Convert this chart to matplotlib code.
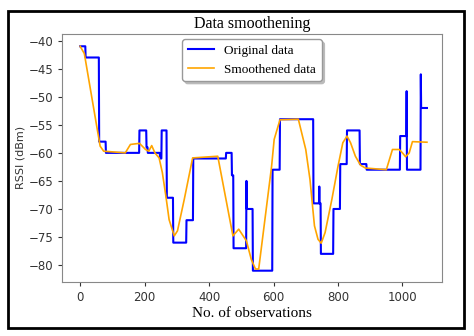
import numpy as np
import matplotlib
matplotlib.use("Agg")
import matplotlib.pyplot as plt
from matplotlib.patches import Rectangle

# original data as runs: observation index where a level starts, and the level
run_start = [0, 17, 59, 80, 184, 206, 210, 248, 253, 269, 289, 330, 351, 453, 471,
             476, 516, 517, 536, 597, 620, 724, 742, 743, 747, 786, 807, 828, 868,
             889, 993, 1013, 1014, 1057, 1058]
run_level = [-41, -43, -58, -60, -56, -59, -60, -61, -56, -68, -76, -72, -61, -60, -64,
             -77, -65, -70, -81, -63, -54, -69, -66, -69, -78, -70, -62, -56, -62,
             -63, -57, -49, -63, -46, -52]
n_obs = 1077

# smoothened data (sparser points)
smooth_x = [0, 4, 13, 62, 73, 140, 156, 184, 203, 213, 222, 232, 245, 255, 266, 276,
            292, 302, 323, 349, 427, 474, 492, 516, 531, 544, 554, 594, 602, 620,
            677, 700, 713, 727, 738, 748, 760, 781, 800, 815, 828, 839, 854, 870,
            885, 950, 969, 990, 1000, 1010, 1021, 1031, 1076]
smooth_y = [-41, -41.4, -42.3, -58.8, -59.7, -60, -58.5, -58.3, -59.4, -59.7, -58.7,
            -60, -60.9, -63.5, -67.7, -71.9, -74.8, -73.9, -68.3, -60.9, -60.6, -74.8,
            -73.6, -75.7, -79, -80.7, -80.7, -62.4, -57.6, -54.1, -54, -59.4, -64.7,
            -73, -75.4, -76.1, -74.2, -68.3, -62.4, -58.2, -57, -58.2, -60.6, -62.2,
            -62.7, -63, -59.4, -59.4, -60, -60.7, -60, -58, -58.1]

lengths = np.diff(run_start + [n_obs])
original = np.repeat(run_level, lengths)

fig = plt.figure(figsize=(4.74, 3.36), dpi=100)
ax = fig.add_axes([0.131, 0.161, 0.801, 0.738])

ax.plot(np.arange(n_obs), original, color="blue", lw=1.5, label="Original data")
ax.plot(smooth_x, smooth_y, color="orange", lw=1.2, label="Smoothened data")

ax.set_xlim(-56, 1122)
ax.set_ylim(-83, -38.8)
ax.set_xticks([0, 200, 400, 600, 800, 1000])
ax.set_yticks([-40, -45, -50, -55, -60, -65, -70, -75, -80])
ax.tick_params(labelsize=8.5, colors="#333333", length=3)
for s in ax.spines.values():
    s.set_color("#888888")

ax.set_title("Data smoothening", family="Liberation Serif", fontsize=11.5, pad=4)
ax.set_xlabel("No. of observations", family="Liberation Serif", fontsize=11, labelpad=2)
ax.set_ylabel("RSSI (dBm)", fontsize=8, color="#333333", labelpad=2)

leg = ax.legend(loc="upper center", prop={"family": "Liberation Serif", "size": 9.5},
                shadow={"color": "#bbbbbb", "alpha": 1}, fancybox=True, framealpha=1,
                borderaxespad=0.4)
leg.get_frame().set_edgecolor("#999999")

fig.patches.append(Rectangle((8 / 474, 8 / 336), 456 / 474, 317 / 336, transform=fig.transFigure,
                             fill=False, edgecolor="black", lw=2))

fig.savefig("out.png", dpi=100)
